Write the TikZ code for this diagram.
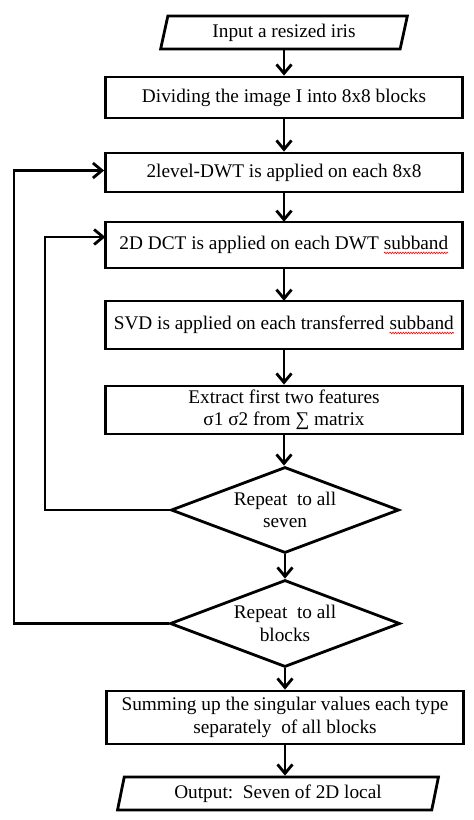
\documentclass[tikz,border=0pt]{standalone}
\usepackage{fontspec}
\setmainfont{Liberation Serif}
\usetikzlibrary{shapes.geometric,arrows.meta,decorations.pathmorphing}
\newcommand\spellwave[1]{\tikz[baseline=(sw.base)]{\node[inner sep=0pt,outer sep=0pt,minimum width=0pt,minimum height=0pt,draw=none] (sw) {#1};
  \draw[red,line width=0.6pt,decorate,decoration={snake,amplitude=0.8pt,segment length=2.6pt}] ([yshift=-3.5pt]sw.base west) -- ([yshift=-3.5pt]sw.base east);}}
\begin{document}
\begin{tikzpicture}[x=1pt,y=-1pt,line width=2.8pt,
  txt/.style={font=\fontsize{19.3}{22.5}\selectfont},
  box/.style={txt,draw,rectangle,minimum width=357pt,inner sep=2pt,align=center},
  io/.style={txt,draw,trapezium,trapezium left angle=78,trapezium right angle=102,trapezium stretches=true,inner sep=2pt},
  dec/.style={txt,draw,diamond,aspect=2.6,minimum width=228pt,minimum height=86pt,inner sep=0pt,align=center},
  flow/.style={-{Straight Barb[length=9pt,width=15pt]}}]
\fill[white] (0,0) rectangle (474,820);
\useasboundingbox (0,0) rectangle (474,820);
\coordinate (L1) at (14,0);
\coordinate (L2) at (45,0);
\node[io,minimum width=247pt,minimum height=33pt] (in) at (284,32.5) {Input a resized iris};
\node[box,minimum height=41pt] (div) at (284,97.5) {Dividing the image I into 8x8 blocks};
\node[box,minimum height=39pt] (dwt) at (284,172.5) {2level-DWT is applied on each 8x8};
\node[box,minimum height=46pt] (dct) at (284,245) {2D DCT is applied on each DWT \spellwave{subband}};
\node[box,minimum height=48pt] (svd) at (284,325) {SVD is applied on each transferred \spellwave{subband}};
\node[box,minimum height=48pt] (ext) at (284,410) {Extract first two features\\σ1 σ2 from ∑ matrix};
\node[dec] (rep7) at (285,510) {Repeat\ \ to all\\seven};
\node[dec,minimum width=230pt,minimum height=87pt] (repb) at (285,623.5) {Repeat\ \ to all\\blocks};
\node[box,minimum height=53pt] (sum) at (285,717.5) {Summing up the singular values each type\\separately\ \ of all blocks};
\node[io,minimum width=322pt,minimum height=33pt] (out) at (278,793.5) {Output:\ \ Seven of 2D local};
\foreach \a/\b in {in/div,div/dwt,dwt/dct,dct/svd,svd/ext,ext/rep7,rep7/repb,repb/sum,sum/out}
  \draw[flow] (\a.south) -- (\a.south |- \b.north);
\draw[flow] (repb.west) -- (repb.west -| L1) |- ([yshift=2pt]dwt.west);
\draw[flow] (rep7.west) -- (rep7.west -| L2) |- ([yshift=8pt]dct.west);
\end{tikzpicture}
\end{document}
